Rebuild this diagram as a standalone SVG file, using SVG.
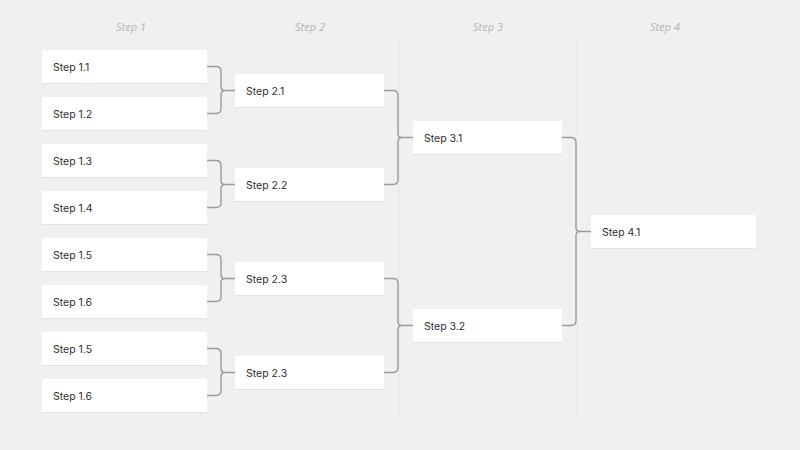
<svg xmlns="http://www.w3.org/2000/svg" width="800" height="450" viewBox="0 0 800 450">
<defs>
<style>
.bg{fill:#f0f0f0}
.sep{stroke:#e8e8e8;stroke-width:1;fill:none}
.hdr{font-family:"Open Sans","Liberation Sans",sans-serif;font-style:italic;font-size:11px;fill:#b4b4b4;text-anchor:middle}
.box{fill:#ffffff}
.sh{fill:#e2e2e2}
.lbl{font-family:Inter,"Liberation Sans",sans-serif;font-size:10.5px;fill:#2e2e2e}
.con{stroke:#9a9a9a;stroke-width:1.4;fill:none}
</style>
</defs>
<rect class="bg" x="0" y="0" width="800" height="450"/>
<g id="columns">
<line class="sep" x1="222" y1="40" x2="222" y2="417"/>
<line class="sep" x1="399" y1="40" x2="399" y2="417"/>
<line class="sep" x1="577" y1="40" x2="577" y2="417"/>
<text class="hdr" x="131" y="31">Step 1</text>
<text class="hdr" x="310" y="31">Step 2</text>
<text class="hdr" x="488" y="31">Step 3</text>
<text class="hdr" x="665" y="31">Step 4</text>
</g>
<g id="connectors">
<path class="con" d="M207,66.5 H216 Q221,66.5 221,71.5 V86.5 Q221,90.5 225,90.5 H235 M207,113.5 H216 Q221,113.5 221,108.5 V94.5 Q221,90.5 225,90.5"/>
<path class="con" d="M207,160.5 H216 Q221,160.5 221,165.5 V180.5 Q221,184.5 225,184.5 H235 M207,207.5 H216 Q221,207.5 221,202.5 V188.5 Q221,184.5 225,184.5"/>
<path class="con" d="M207,254.5 H216 Q221,254.5 221,259.5 V274.5 Q221,278.5 225,278.5 H235 M207,301.5 H216 Q221,301.5 221,296.5 V282.5 Q221,278.5 225,278.5"/>
<path class="con" d="M207,348.5 H216 Q221,348.5 221,353.5 V368.5 Q221,372.5 225,372.5 H235 M207,395.5 H216 Q221,395.5 221,390.5 V376.5 Q221,372.5 225,372.5"/>
<path class="con" d="M384,90.5 H393 Q398,90.5 398,95.5 V133.5 Q398,137.5 402,137.5 H413 M384,184.5 H393 Q398,184.5 398,179.5 V141.5 Q398,137.5 402,137.5"/>
<path class="con" d="M384,278.5 H393 Q398,278.5 398,283.5 V321.5 Q398,325.5 402,325.5 H413 M384,372.5 H393 Q398,372.5 398,367.5 V329.5 Q398,325.5 402,325.5"/>
<path class="con" d="M562,137.5 H571 Q576,137.5 576,142.5 V227.5 Q576,231.5 580,231.5 H591 M562,325.5 H571 Q576,325.5 576,320.5 V235.5 Q576,231.5 580,231.5"/>
</g>
<g id="n1-1"><rect class="sh" x="42" y="51" width="165" height="33"/><rect class="box" x="42" y="50" width="165" height="33"/><text class="lbl" x="53" y="70.5">Step 1.1</text></g>
<g id="n1-2"><rect class="sh" x="42" y="98" width="165" height="33"/><rect class="box" x="42" y="97" width="165" height="33"/><text class="lbl" x="53" y="117.5">Step 1.2</text></g>
<g id="n1-3"><rect class="sh" x="42" y="145" width="165" height="33"/><rect class="box" x="42" y="144" width="165" height="33"/><text class="lbl" x="53" y="164.5">Step 1.3</text></g>
<g id="n1-4"><rect class="sh" x="42" y="192" width="165" height="33"/><rect class="box" x="42" y="191" width="165" height="33"/><text class="lbl" x="53" y="211.5">Step 1.4</text></g>
<g id="n1-5"><rect class="sh" x="42" y="239" width="165" height="33"/><rect class="box" x="42" y="238" width="165" height="33"/><text class="lbl" x="53" y="258.5">Step 1.5</text></g>
<g id="n1-6"><rect class="sh" x="42" y="286" width="165" height="33"/><rect class="box" x="42" y="285" width="165" height="33"/><text class="lbl" x="53" y="305.5">Step 1.6</text></g>
<g id="n1-7"><rect class="sh" x="42" y="333" width="165" height="33"/><rect class="box" x="42" y="332" width="165" height="33"/><text class="lbl" x="53" y="352.5">Step 1.5</text></g>
<g id="n1-8"><rect class="sh" x="42" y="380" width="165" height="33"/><rect class="box" x="42" y="379" width="165" height="33"/><text class="lbl" x="53" y="399.5">Step 1.6</text></g>
<g id="n2-1"><rect class="sh" x="235" y="75" width="149" height="33"/><rect class="box" x="235" y="74" width="149" height="33"/><text class="lbl" x="246" y="94.5">Step 2.1</text></g>
<g id="n2-2"><rect class="sh" x="235" y="169" width="149" height="33"/><rect class="box" x="235" y="168" width="149" height="33"/><text class="lbl" x="246" y="188.5">Step 2.2</text></g>
<g id="n2-3"><rect class="sh" x="235" y="263" width="149" height="33"/><rect class="box" x="235" y="262" width="149" height="33"/><text class="lbl" x="246" y="282.5">Step 2.3</text></g>
<g id="n2-4"><rect class="sh" x="235" y="357" width="149" height="33"/><rect class="box" x="235" y="356" width="149" height="33"/><text class="lbl" x="246" y="376.5">Step 2.3</text></g>
<g id="n3-1"><rect class="sh" x="413" y="122" width="149" height="33"/><rect class="box" x="413" y="121" width="149" height="33"/><text class="lbl" x="424" y="141.5">Step 3.1</text></g>
<g id="n3-2"><rect class="sh" x="413" y="310" width="149" height="33"/><rect class="box" x="413" y="309" width="149" height="33"/><text class="lbl" x="424" y="329.5">Step 3.2</text></g>
<g id="n4-1"><rect class="sh" x="591" y="216" width="165" height="33"/><rect class="box" x="591" y="215" width="165" height="33"/><text class="lbl" x="602" y="235.5">Step 4.1</text></g>
</svg>
